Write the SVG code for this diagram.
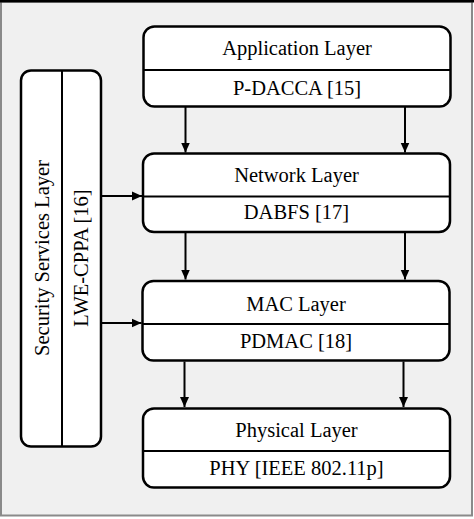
<svg xmlns="http://www.w3.org/2000/svg" width="474" height="519" viewBox="0 0 474 519">
<defs>
<style>
.box{fill:#fff;stroke:#000;stroke-width:2.5}
.div{stroke:#000;stroke-width:2}
.t{font-family:"Liberation Serif","Times New Roman",serif;font-size:20.5px;fill:#000;text-anchor:middle}
.c{stroke:#000;stroke-width:2;fill:none;marker-end:url(#ah)}
</style>
<marker id="ah" viewBox="0 0 10 10" refX="10" refY="5" markerWidth="10" markerHeight="10" markerUnits="userSpaceOnUse" orient="auto">
<path d="M0,0.5 L10,5 L0,9.5 Z" fill="#000"/>
</marker>
</defs>
<rect x="0" y="0" width="474" height="519" fill="#fff"/>
<rect x="1" y="1.5" width="471" height="514" fill="#f0f0f0" stroke="#8a8a8a" stroke-width="2"/>
<rect x="0" y="0" width="474" height="2.5" fill="#000"/>

<g id="security">
<rect class="box" x="21" y="70.5" width="80" height="376" rx="10"/>
<line class="div" x1="62" y1="70.5" x2="62" y2="446.5"/>
<text class="t" transform="translate(49,258) rotate(-90)">Security Services Layer</text>
<text class="t" transform="translate(88,258) rotate(-90)">LWE-CPPA [16]</text>
</g>

<g id="application">
<rect class="box" x="143.5" y="26.5" width="307" height="80" rx="11"/>
<line class="div" x1="143.5" y1="70" x2="450.5" y2="70"/>
<text class="t" x="297" y="55">Application Layer</text>
<text class="t" x="297" y="95">P-DACCA [15]</text>
</g>

<g id="network">
<rect class="box" x="143" y="153.5" width="307" height="78.5" rx="11"/>
<line class="div" x1="143" y1="196.5" x2="450" y2="196.5"/>
<text class="t" x="296.5" y="182">Network Layer</text>
<text class="t" x="296.5" y="219">DABFS [17]</text>
</g>

<g id="mac">
<rect class="box" x="142.5" y="281" width="307" height="79.5" rx="11"/>
<line class="div" x1="142.5" y1="324" x2="449.5" y2="324"/>
<text class="t" x="296" y="311">MAC Layer</text>
<text class="t" x="296" y="348">PDMAC [18]</text>
</g>

<g id="physical">
<rect class="box" x="143" y="408.5" width="307" height="79" rx="11"/>
<line class="div" x1="143" y1="451" x2="450" y2="451"/>
<text class="t" x="296.5" y="437">Physical Layer</text>
<text class="t" x="296.5" y="475">PHY [IEEE 802.11p]</text>
</g>

<g id="connectors">
<line class="c" x1="185.5" y1="107" x2="185.5" y2="152.5"/>
<line class="c" x1="405" y1="107" x2="405" y2="152.5"/>
<line class="c" x1="185.5" y1="233" x2="185.5" y2="279.5"/>
<line class="c" x1="405" y1="233" x2="405" y2="279.5"/>
<line class="c" x1="184.5" y1="361.5" x2="184.5" y2="407"/>
<line class="c" x1="403.5" y1="361.5" x2="403.5" y2="407"/>
<line class="c" x1="102" y1="196" x2="142" y2="196"/>
<line class="c" x1="102" y1="323" x2="141.5" y2="323"/>
</g>
</svg>
